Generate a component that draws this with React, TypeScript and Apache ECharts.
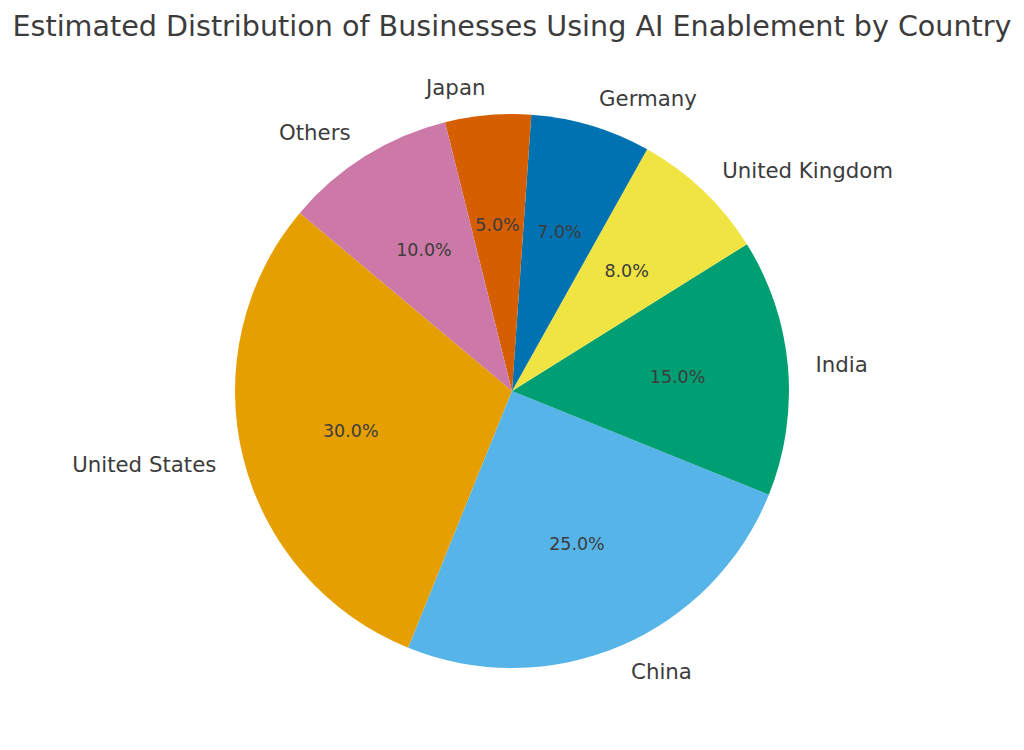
import React, { useEffect, useRef } from "react";
import * as echarts from "echarts";

const countries = ["United States", "China", "India", "United Kingdom", "Germany", "Japan", "Others"];
const shares = [30, 25, 15, 8, 7, 5, 10];
const colors = ["#E69F00", "#56B4E9", "#009E73", "#F0E442", "#0072B2", "#D55E00", "#CC79A7"];
const titleText = "Estimated Distribution of Businesses Using AI Enablement by Country";

const R = 277;
const FONT = "DejaVu Sans";
const TXT = "#3c3c3c";

export default function App() {
  const ref = useRef<HTMLDivElement>(null);
  useEffect(() => {
    document.body.style.margin = "0";
    const chart = echarts.init(ref.current!, null, { renderer: "svg" });
    const data = countries.map((name, i) => ({ name, value: shares[i], itemStyle: { color: colors[i] } }));
    chart.setOption({
      animation: false,
      backgroundColor: "#ffffff",
      title: {
        text: titleText,
        left: "center",
        top: 6,
        textStyle: { fontFamily: FONT, fontSize: 28.6, fontWeight: "normal", color: TXT },
      },
      series: [
        {
          type: "pie",
          center: [512, 391],
          radius: R,
          startAngle: 140,
          clockwise: false,
          avoidLabelOverlap: false,
          silent: true,
          data,
          itemStyle: { borderWidth: 0 },
          label: {
            show: true,
            position: "outside",
            formatter: "{b}",
            fontFamily: FONT,
            fontSize: 21.3,
            color: TXT,
            distanceToLabelLine: 0,
          },
          labelLine: { show: false, length: R * 0.1, length2: 0 },
        },
        {
          type: "pie",
          center: [512, 391],
          radius: [R * 0.2 - 6, R],
          startAngle: 140,
          clockwise: false,
          avoidLabelOverlap: false,
          silent: true,
          data: countries.map((name, i) => ({ name, value: shares[i] })),
          itemStyle: { color: "transparent", borderWidth: 0 },
          label: {
            show: true,
            position: "inside",
            formatter: (p: any) => p.value.toFixed(1) + "%",
            fontFamily: FONT,
            fontSize: 17.5,
            color: TXT,
          },
          labelLine: { show: false },
        },
      ],
    });
    return () => chart.dispose();
  }, []);
  return <div ref={ref} style={{ width: 1024, height: 750 }} />;
}
